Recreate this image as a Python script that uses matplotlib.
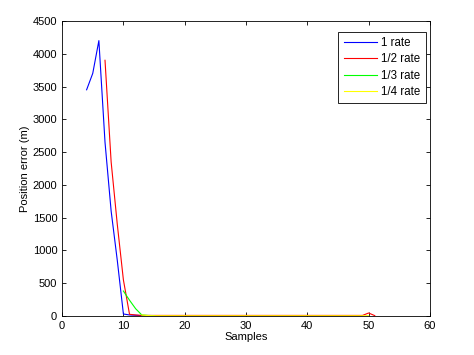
import matplotlib
matplotlib.use("Agg")
import matplotlib.pyplot as plt

# values
rate1_x = [4, 5, 6, 7, 8, 9, 10, 11, 12, 13]
rate1_y = [3450, 3700, 4200, 2650, 1600, 850, 30, 15, 10, 5]

rate2_x = [7, 8, 9, 10, 11, 12, 13, 49, 50, 51]
rate2_y = [3900, 2350, 1400, 550, 25, 15, 8, 8, 45, 5]

rate3_x = [10, 11, 12, 13, 14, 15]
rate3_y = [380, 240, 110, 15, 8, 5]

rate4_x = [13, 14, 15, 20, 30, 40, 50]
rate4_y = [15, 6, 4, 3, 3, 3, 3]

labels = ["1 rate", "1/2 rate", "1/3 rate", "1/4 rate"]
colors = ["#0000ff", "#ff0000", "#00ff00", "#ffff00"]

plt.rcParams["font.family"] = ["Liberation Sans", "DejaVu Sans"]
plt.rcParams["font.size"] = 8

fig = plt.figure(figsize=(4.74, 3.55), dpi=100)
ax = fig.add_axes([0.131, 0.110, 0.776, 0.831])

series = [(rate1_x, rate1_y), (rate2_x, rate2_y), (rate3_x, rate3_y), (rate4_x, rate4_y)]
for (xs, ys), lab, col in zip(series, labels, colors):
    ax.plot(xs, ys, color=col, linewidth=0.8, label=lab)

ax.set_xlim(0, 60)
ax.set_ylim(0, 4500)
ax.set_xticks(range(0, 61, 10))
ax.set_yticks(range(0, 4501, 500))
ax.tick_params(direction="in", length=3, width=0.6, top=True, right=True)
for s in ax.spines.values():
    s.set_linewidth(0.6)

ax.set_xlabel("Samples", labelpad=1)
ax.set_ylabel("Position error (m)", labelpad=2)

leg = ax.legend(loc="upper right", bbox_to_anchor=(0.988, 0.962), fancybox=False,
                edgecolor="black", framealpha=1, fontsize=8.3, handlelength=2.9,
                handletextpad=0.35, borderpad=0.45, labelspacing=0.36,
                borderaxespad=0)
leg.get_frame().set_linewidth(0.6)

plt.savefig("out.png", dpi=100)
plt.close()
